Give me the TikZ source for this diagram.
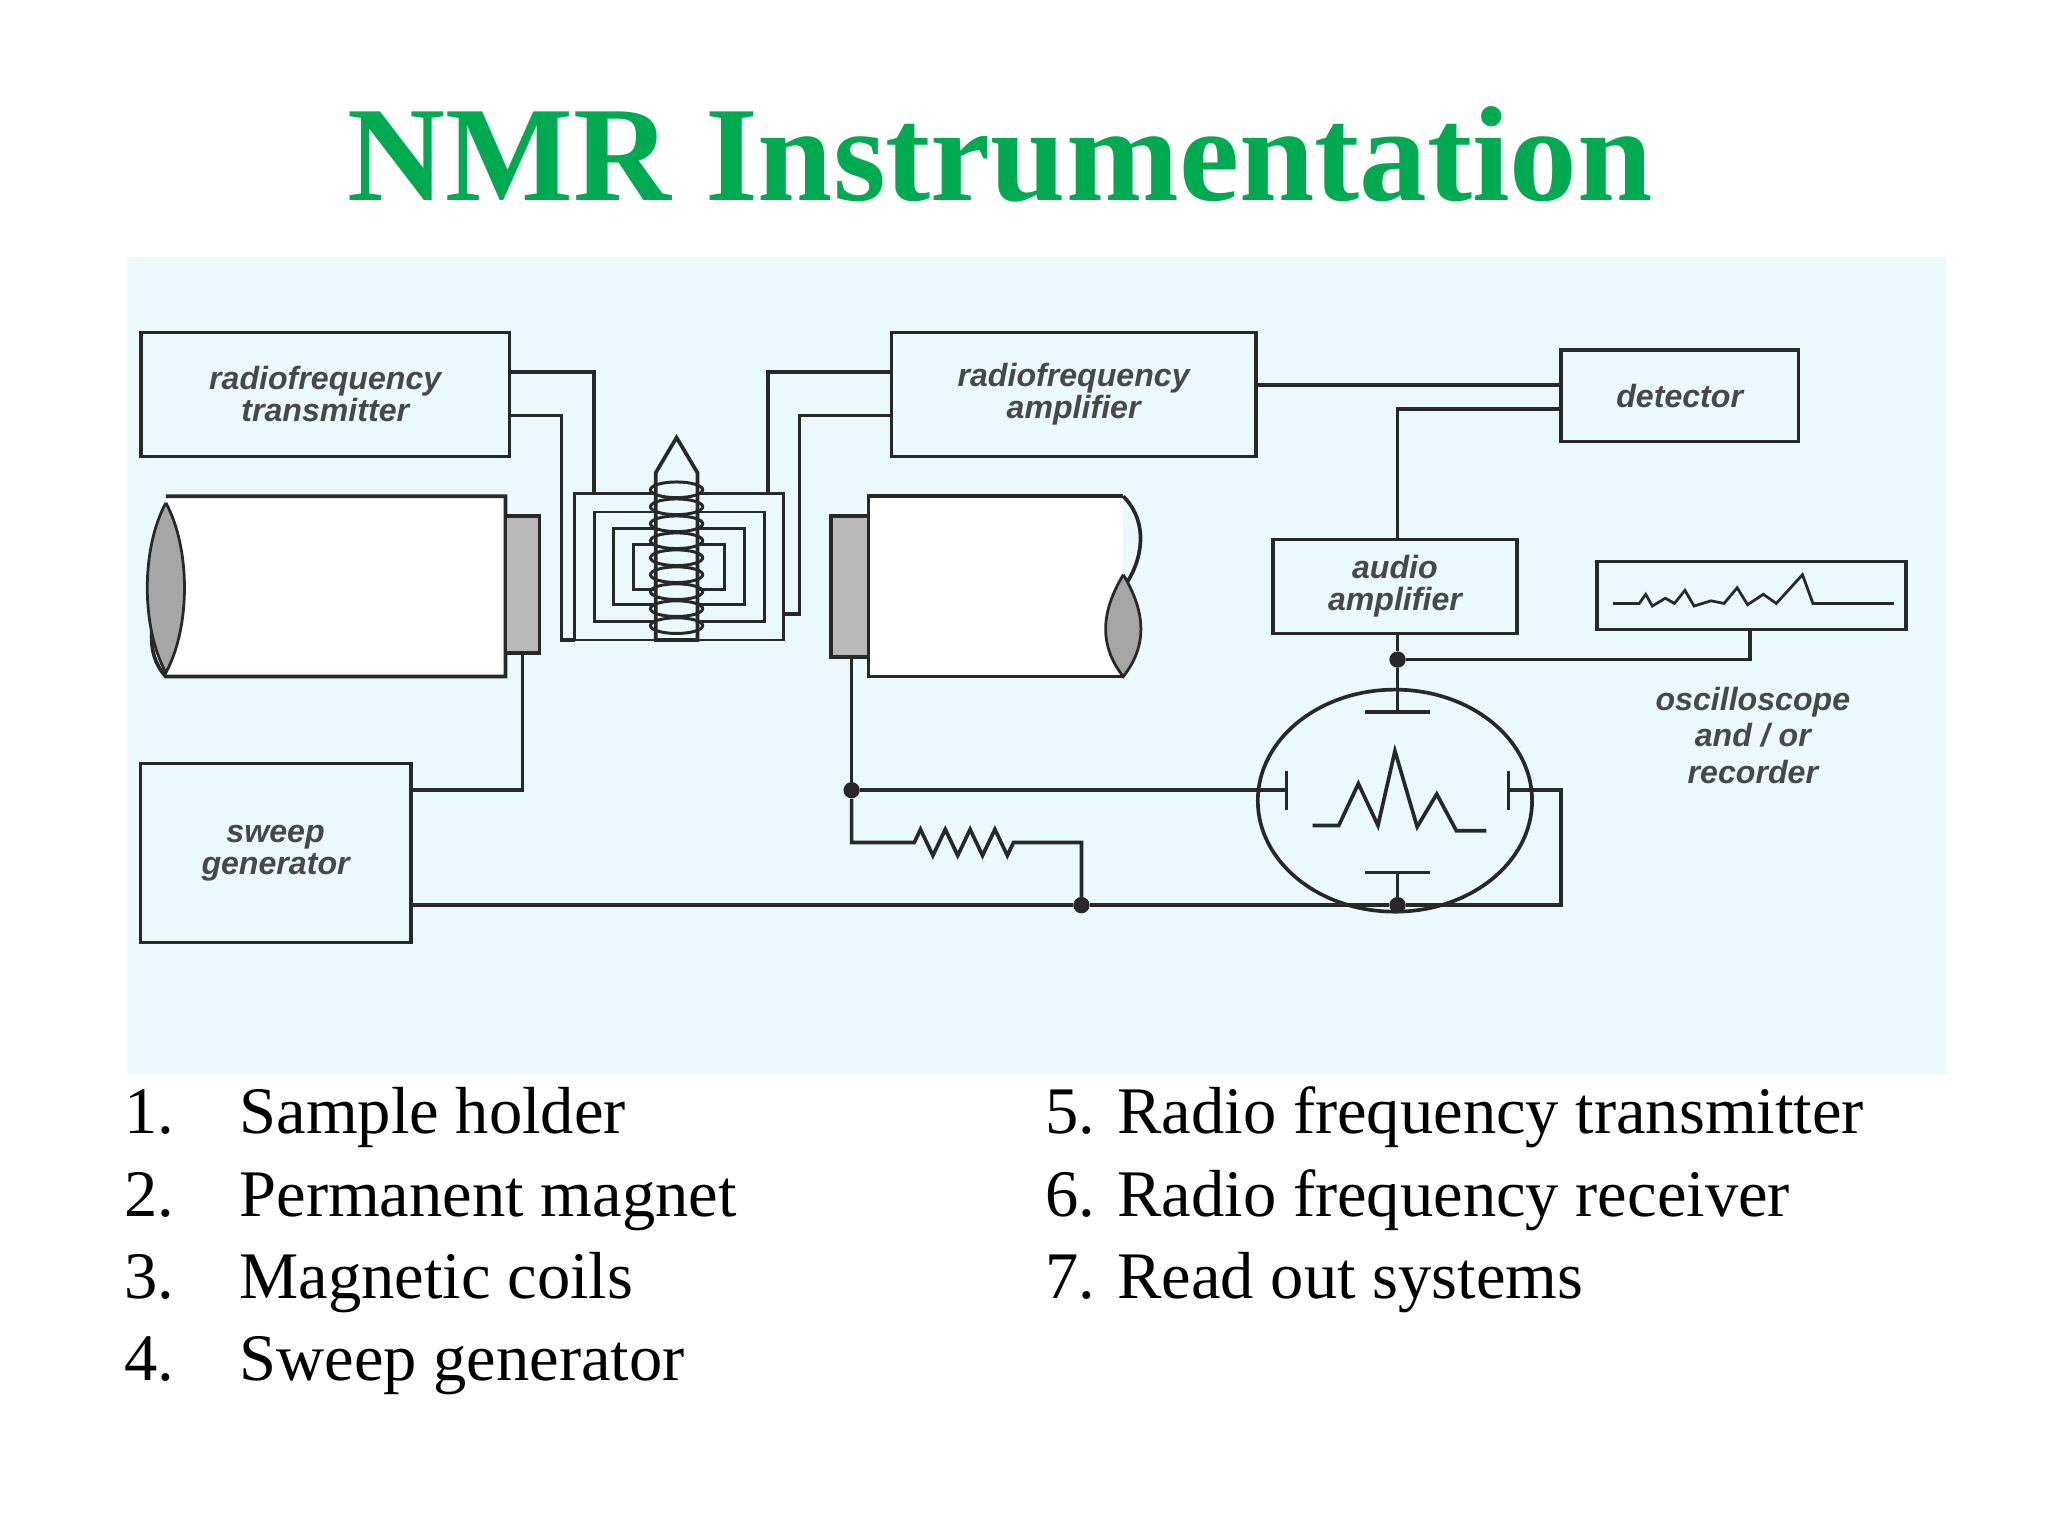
\documentclass[tikz,border=0pt]{standalone}
\usepackage{fontspec}
\setmainfont{Liberation Serif}
\newfontfamily\lbl{Liberation Sans}
\usetikzlibrary{decorations.pathmorphing}
\definecolor{titlegreen}{RGB}{0,170,80}
\definecolor{panel}{RGB}{234,249,252}
\definecolor{ink}{RGB}{40,40,40}
\begin{document}
\begin{tikzpicture}[x=0.02cm,y=-0.02cm,
  wire/.style={ink,line width=1.6pt},
  box/.style={draw=ink,line width=1.6pt,rectangle,align=center,font=\lbl\itshape\bfseries\fontsize{14}{14}\selectfont,text=ink!85},
  dot/.style={circle,fill=ink,inner sep=0pt,minimum size=0.25cm},
  item/.style={anchor=base west,font=\fontsize{29}{29}\selectfont,inner sep=0pt}]
\useasboundingbox (0,0) rectangle (1568,1176);
\fill[white] (0,0) rectangle (1568,1176);
\node[font=\bfseries\fontsize{59}{59}\selectfont,text=titlegreen] (title) at (766,118) {NMR Instrumentation};
\fill[panel] (97,197) rectangle (1490,822);
% boxes
\node[box,minimum width=5.64cm,minimum height=1.9cm] (tx) at (249,302) {radiofrequency\\transmitter};
\node[box,minimum width=5.58cm,minimum height=1.9cm] (amp) at (822,302) {radiofrequency\\amplifier};
\node[box,minimum width=3.64cm,minimum height=1.4cm] (det) at (1286,303) {detector};
\node[box,minimum width=3.74cm,minimum height=1.44cm] (aud) at (1068,449) {audio\\amplifier};
\node[box,minimum width=4.74cm,minimum height=1.04cm] (osc) at (1341,456) {};
\node[box,minimum width=4.14cm,minimum height=2.74cm] (sw) at (211,653) {sweep\\generator};
\node[font=\lbl\itshape\bfseries\fontsize{14}{16}\selectfont,text=ink!85,align=center] (osclbl) at (1342,563) {oscilloscope\\and / or\\recorder};
% oscilloscope trace
\draw[wire,line width=1.2pt] (1235,462) -- (1255,462) -- (1260,455) -- (1265,464) -- (1275,458) -- (1282,462) -- (1290,452) -- (1297,464) -- (1310,460) -- (1320,462) -- (1330,450) -- (1338,463) -- (1350,455) -- (1360,462) -- (1380,440) -- (1388,462) -- (1450,462);
% magnets
\draw[wire,fill=white] (127,380) -- (387,380) -- (387,518) -- (127,518) .. controls (110,500) and (115,470) .. (127,450);
\fill[gray!70,draw=ink,line width=1.2pt] (127,385) .. controls (108,420) and (108,480) .. (127,515) .. controls (146,480) and (146,420) .. (127,385);
\draw[wire,fill=gray!55] (387,395) rectangle (413,500);
\draw[wire,fill=white] (860,380) -- (665,380) -- (665,518) -- (860,518);
\draw[wire] (860,380) .. controls (880,400) and (875,430) .. (860,450);
\fill[gray!70,draw=ink,line width=1.2pt] (860,440) .. controls (842,470) and (842,495) .. (860,518) .. controls (878,495) and (878,470) .. (860,440);
\draw[wire,fill=gray!55] (636,395) rectangle (665,503);
% coil assembly
\foreach \w/\h in {80/56,65/42,50/29,35/17}{
  \draw[wire,line width=1.3pt] (520-\w,434-\h) rectangle (520+\w,434+\h);}
\draw[wire,fill=panel] (502,362) -- (518,335) -- (534,362) -- (534,490) -- (502,490) -- cycle;
\foreach \yy in {375,388,...,480}{\draw[wire,line width=1.3pt] (518,\yy) ellipse (20 and 6);}
% wires
\coordinate (t1) at (455,378); \coordinate (t2) at (430,490);
\draw[wire] (tx.east |- 0,285) -- (455,285) -- (t1);
\draw[wire] (tx.east |- 0,318) -- (430,318) -- (t2) -- (440,490);
\draw[wire] (amp.west |- 0,285) -- (588,285) -- (588,378);
\draw[wire] (amp.west |- 0,318) -- (612,318) -- (612,470) -- (600,470);
\draw[wire] (amp.east |- 0,295) -- (det.west |- 0,295);
\draw[wire] (det.west |- 0,313) -- (1070,313) -- (aud.north -| 1070,0);
% CRT
\draw[wire] (1068,613) ellipse (105 and 85);
\node[dot] (d1) at (1070,505) {};
\draw[wire] (aud.south -| 1070,0) -- (d1) -- (1070,545);
\draw[wire] (1045,545) -- (1095,545);
\draw[wire] (d1) -- (1340,505) -- (osc.south -| 1340,0);
\draw[wire] (1045,668) -- (1095,668);
\draw[wire] (985,590) -- (985,620); \draw[wire] (1155,590) -- (1155,620);
\draw[wire] (1005,632) -- (1025,632) -- (1040,600) -- (1055,632) -- (1068,575) -- (1085,633) -- (1100,608) -- (1115,636) -- (1138,636);
% sweep connections
\draw[wire] (400,500) -- (400,605) -- (sw.east |- 0,605);
\node[dot] (d2) at (652,605) {};
\draw[wire] (652,503) -- (d2) -- (985,605);
\draw[wire] (d2) -- (652,645) -- (700,645)
  decorate[decoration={zigzag,segment length=0.38cm,amplitude=0.2cm}]{-- (780,645)} -- (828,645) -- (828,693);
\node[dot] (d3) at (828,693) {};
\node[dot] (d4) at (1070,693) {};
\draw[wire] (sw.east |- 0,693) -- (d3) -- (d4) -- (1195,693) -- (1195,605) -- (1155,605);
\draw[wire] (1070,668) -- (d4);
% list
\node[item] at (95,868) {1.}; \node[item] at (183,868) {Sample holder};
\node[item] at (95,931) {2.}; \node[item] at (183,931) {Permanent magnet};
\node[item] at (95,994) {3.}; \node[item] at (183,994) {Magnetic coils};
\node[item] at (95,1057) {4.}; \node[item] at (183,1057) {Sweep generator};
\node[item] at (800,868) {5. Radio frequency transmitter};
\node[item] at (800,931) {6. Radio frequency receiver};
\node[item] at (800,994) {7. Read out systems};
\end{tikzpicture}
\end{document}
